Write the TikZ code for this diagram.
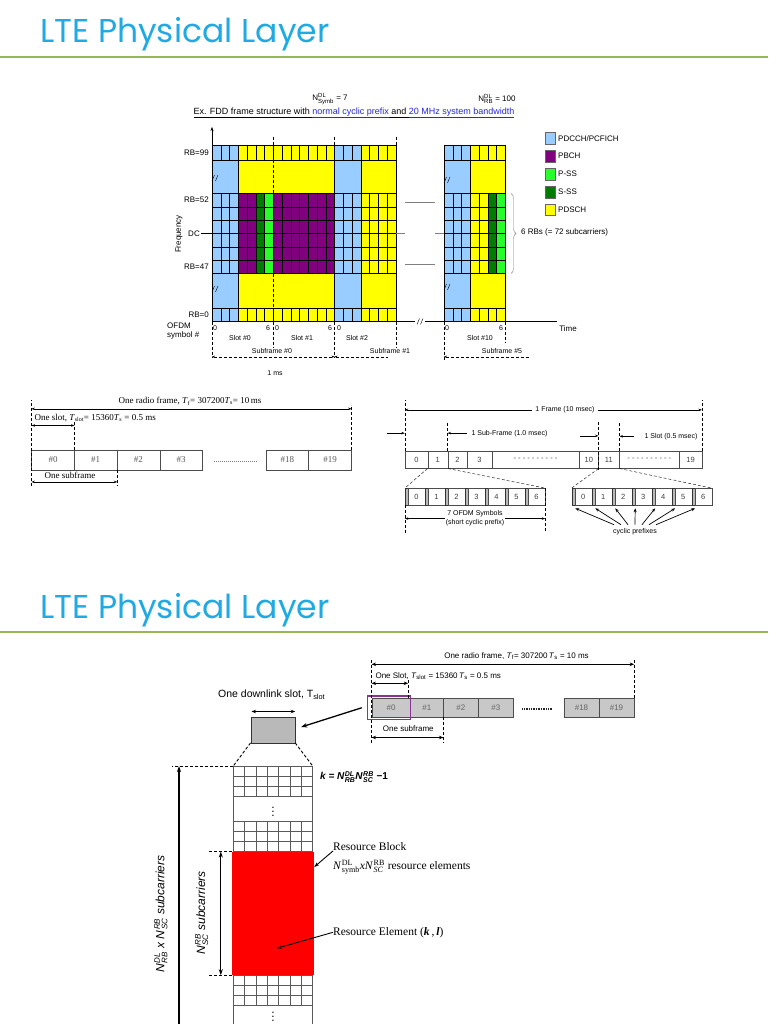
\documentclass[tikz,border=0pt]{standalone}
\usepackage{fontspec}
\usepackage{amsmath}
\usepackage{xcolor}
\setmainfont{Liberation Sans}
\newfontfamily\tnrfont{Liberation Serif}
\newfontfamily\titlefont{Poppins}
\usetikzlibrary{arrows.meta, positioning, calc, decorations.pathreplacing}
\definecolor{titleblue}{RGB}{32,170,228}
\definecolor{rulegreen}{RGB}{150,185,85}
\definecolor{pdcch}{RGB}{153,204,255}
\definecolor{pbch}{RGB}{128,0,128}
\definecolor{pss}{RGB}{40,255,40}
\definecolor{sss}{RGB}{0,125,0}
\definecolor{pdsch}{RGB}{255,255,0}
\definecolor{linkblue}{RGB}{40,40,220}
\definecolor{slotgrey}{RGB}{200,200,200}
\definecolor{selpurple}{RGB}{140,50,150}
\definecolor{gridgrey}{RGB}{90,90,90}
\newcommand\ulpart[1]{\underline{#1\vphantom{py}}}

\begin{document}
\begin{tikzpicture}[x=1pt, y=-1pt,
    pagetitle/.style={font=\titlefont\fontsize{33}{33}\selectfont, text=titleblue, anchor=base west, inner sep=0},
    greenrule/.style={rulegreen, line width=2pt},
    lbl/.style={font=\fontsize{8}{9.7}\selectfont, inner sep=1pt},
    smalllbl/.style={font=\fontsize{7}{8}\selectfont, inner sep=1pt},
    cell/.style={draw=black, line width=0.5pt},
    dimline/.style={densely dashed, line width=0.4pt},
    bdim/.style={densely dashed, line width=0.9pt},
    farr/.style={line width=0.5pt, {Stealth[length=3.5pt,width=2.5pt]}-{Stealth[length=3.5pt,width=2.5pt]}},
    tarr/.style={line width=0.5pt, -{Stealth[length=3.5pt,width=2.5pt]}},
    barr/.style={line width=1pt, {Stealth[length=4.5pt,width=3.5pt]}-{Stealth[length=4.5pt,width=3.5pt]}},
    parr/.style={line width=0.9pt, -{Stealth[length=5pt,width=3.5pt]}},
    legbox/.style={draw=black!60, minimum width=9.5, minimum height=11.5, inner sep=0},
    fbox/.style={draw=black!70, minimum height=20, inner sep=0, text=black!65},
    sbox/.style={draw=black!70, minimum height=17.3, inner sep=0, text=black!75, font=\fontsize{7.5}{8}\selectfont},
    cpbar/.style={draw=black!80, fill=gray!55, minimum width=3, minimum height=16.7, inner sep=0},
    symbox/.style={draw=black!70, minimum width=17, minimum height=16.7, inner sep=0, text=black!75, font=\fontsize{7.5}{8}\selectfont},
    gbox/.style={draw=black!70, fill=slotgrey, minimum height=19, inner sep=0, text=black!60, font=\fontsize{8}{9}\selectfont},
    brkmark/.pic={\draw[line width=0.4pt] (-3,3) -- (-0.5,-3) (0.5,3) -- (3,-3);}
]
\useasboundingbox (0,0) rectangle (768,1024);
\fill[white] (0,0) rectangle (768,1024);

% ---------------- page 1 header
\node[pagetitle] (title1) at (40,43) {LTE Physical Layer};
\draw[greenrule] (0,57) -- (768,57);

\node[lbl] (nsymb) at (330,99) {N$^{\text{DL}}_{\text{Symb}}$ = 7};
\node[lbl] (nrb) at (497,99) {N$^{\text{DL}}_{\text{RB}}$ = 100};
\node[font=\fontsize{9}{10}\selectfont, inner sep=0] (extitle) at (354,113) {\ulpart{Ex. FDD frame structure with\ }\textcolor{linkblue}{\ulpart{normal cyclic prefix}}\ulpart{\ and\ }\textcolor{linkblue}{\ulpart{20 MHz system bandwidth}}};

% ---------------- resource grid, slots 0-2 and slot 10
\fill[pdcch] (212,145) rectangle (238.25,321.5);
\fill[pdsch] (238.25,145) rectangle (334.5,321.5);
\fill[pdcch] (334.5,145) rectangle (360.75,321.5);
\fill[pdsch] (360.75,145) rectangle (395.75,321.5);
\fill[pbch] (238.25,193.5) rectangle (255.75,273.5);
\fill[sss] (255.75,193.5) rectangle (264.5,273.5);
\fill[pss] (264.5,193.5) rectangle (273.25,273.5);
\fill[pbch] (273.25,193.5) rectangle (334.5,273.5);
\fill[pdcch] (444,145) rectangle (470.25,321.5);
\fill[pdsch] (470.25,145) rectangle (505.25,321.5);
\fill[sss] (487.75,193.5) rectangle (496.5,273.5);
\fill[pss] (496.5,193.5) rectangle (505.25,273.5);

\foreach \gx/\nc in {212/21, 444/7} {
  \foreach \gy in {145,160,193.5,206.83,220.17,233.5,246.83,260.17,273.5,308.5,321.5}
    \draw[cell] (\gx,\gy) -- ++({\nc*8.75},0);
  \foreach \col in {0,...,\nc} {
    \draw[cell] ({\gx+\col*8.75},145) -- ++(0,15);
    \draw[cell] ({\gx+\col*8.75},193.5) -- ++(0,80);
    \draw[cell] ({\gx+\col*8.75},308.5) -- ++(0,13);
  }
  \draw[cell] (\gx,145) -- ++(0,176.5);
  \draw[cell] ({\gx+\nc*8.75},145) -- ++(0,176.5);
}
\foreach \gx in {238.25,334.5,360.75,470.25}
  \draw[cell] (\gx,160) -- ++(0,33.5) (\gx,273.5) -- ++(0,35);
\draw[cell, densely dashed] (273.25,160) -- ++(0,33.5) (273.25,273.5) -- ++(0,35);
\foreach \gx in {273.25,334.5,395.75}
  \draw[dimline] (\gx,137) -- (\gx,145);

% breaks
\foreach \bx/\by in {215/178, 215/289, 447/180, 447/287}
  \pic at (\bx,\by) {brkmark};
\draw[gray] (405,202.3) -- (435,202.3) (396,233.5) -- (405,233.5) (435,233.5) -- (444,233.5) (405,264.3) -- (435,264.3);

% axes
\draw[line width=0.5pt, -{Stealth[length=4pt,width=3pt]}] (212,145) -- (212,127);
\draw[line width=0.5pt] (212,321.5) -- (415,321.5) (425,321.5) -- (557,321.5);
\pic at (420,321.5) {brkmark};
\node[lbl] (time) at (568,329) {Time};

\node[lbl, anchor=east] (rb99) at (210,152.5) {RB=99};
\node[lbl, anchor=east] (rb52) at (210,200.2) {RB=52};
\node[lbl, anchor=east] (dc) at (201,233.5) {DC};
\draw[cell] (dc.east) -- (212,233.5);
\node[lbl, anchor=east] (rb47) at (210,266.8) {RB=47};
\node[lbl, anchor=east] (rb0) at (210,315) {RB=0};
\node[lbl, rotate=90] (freq) at (179,234) {Frequency};
\node[lbl, anchor=west, align=left] (ofdm) at (166,331) {OFDM\\symbol \#};

\foreach \sx/\st [count=\i] in {215/0, 268/6, 277/0, 330/6, 339/0, 447/0, 501/6}
  \node[smalllbl] (symno\i) at (\sx,328) {\st};
\foreach \sx/\sy in {212/358, 273.25/347, 334.5/358, 395.75/347, 444/361, 505.25/343}
  \draw[dimline] (\sx,321.5) -- (\sx,\sy);
\draw[dimline, {Stealth[length=3pt]}-{Stealth[length=3pt]}] (212,356.7) -- (334.5,356.7);
\draw[dimline, {Stealth[length=3pt]}-] (334.5,356.7) -- (388,356.7);
\draw[dimline, {Stealth[length=3pt]}-] (444,356.7) -- (530,356.7);

\node[smalllbl] (slot0) at (240,338) {Slot \#0};
\node[smalllbl] (slot1) at (302,338) {Slot \#1};
\node[smalllbl] (slot2) at (357,338) {Slot \#2};
\node[smalllbl] (slot10) at (480,338) {Slot \#10};
\node[smalllbl, fill=white, inner sep=0.5pt] (sf0) at (272,351) {Subframe \#0};
\node[smalllbl, fill=white, inner sep=0.5pt] (sf1) at (390,351) {Subframe \#1};
\node[smalllbl, fill=white, inner sep=0.5pt] (sf5) at (502,351) {Subframe \#5};
\node[smalllbl] (onems) at (275,373) {1 ms};

% legend
\foreach \cl/\ct [count=\i from 0] in {pdcch/PDCCH\slash PCFICH, pbch/PBCH, pss/P-SS, sss/S-SS, pdsch/PDSCH} {
  \node[legbox, fill=\cl] (key\i) at (550,{138.3+\i*17.9}) {};
  \node[lbl, anchor=west] (keytxt\i) at (557,{138.3+\i*17.9}) {\ct};
}
\draw[gray, decorate, decoration={brace, amplitude=5pt}] (511,193.5) -- (511,273.5);
\node[lbl, anchor=west] (sixrb) at (520,232) {6 RBs (= 72 subcarriers)};

% ---------------- radio frame (left)
\begin{scope}[font=\tnrfont\fontsize{9}{10}\selectfont]
\foreach \ft/\fx [count=\i] in {\#0/53, \#1/95.7, \#2/138.4, \#3/181.1, \#18/287.3, \#19/330}
  \node[fbox, minimum width=42.7] (fs\i) at (\fx,460) {\ft};
\draw[gray, line width=0.6pt, dash pattern=on 0.6pt off 1.4pt] (214,461) -- (257,461);
\draw[dimline] ([yshift=-16pt]fs1.south west) -- ([yshift=50pt]fs1.north west);
\draw[farr] ([yshift=41pt]fs1.north west) -- ([yshift=41pt]fs6.north east);
\draw[dimline] (fs6.north east) -- ([yshift=45pt]fs6.north east);
\node (rframe) at (190,401.5) {One radio frame, \textit{T}\textsubscript{f}= 307200\textit{T}\textsubscript{s}= 10\,ms};
\node[anchor=west] (oneslot) at (31,418) {One slot, \textit{T}\textsubscript{slot}= 15360\textit{T}\textsubscript{s} = 0.5 ms};
\draw[farr] ([yshift=24.3pt]fs1.north west) -- ([yshift=24.3pt]fs1.north east);
\draw[dimline] (fs1.north east) -- ([yshift=28pt]fs1.north east);
\draw[farr] ([yshift=-11.7pt]fs1.south west) -- ([yshift=-11.7pt]fs2.south east);
\draw[dimline] (fs2.south east) -- ([yshift=-16pt]fs2.south east);
\node (onesub) at (70,475.5) {One subframe};
\end{scope}

% ---------------- radio frame (right)
\begin{scope}[font=\fontsize{7}{8.5}\selectfont]
\foreach \bt/\bx/\bw [count=\i] in {0/416.35/22.7, 1/437.7/20, 2/457.5/19.6, 3/479.5/24.4, - - - - - - - - - -/535.5/87.6, 10/588.8/19, 11/608.8/21, - - - - - - - - - -/649.3/60, 19/690.5/22.4}
  \node[sbox, minimum width=\bw] (fb\i) at (\bx,459.7) {\bt};
\draw[dimline] (fb1.north west) -- ++(0,-51);
\draw[dimline] (fb9.north east) -- ++(0,-51);
\draw[farr] ([yshift=41pt]fb1.north west) -- ([yshift=41pt]fb9.north east);
\node[fill=white, inner sep=3pt] (oneframe) at (565,410) {1 Frame (10 msec)};
\draw[tarr] ([xshift=-18.3pt,yshift=17.7pt]fb1.north west) -- ([yshift=17.7pt]fb1.north west);
\draw[dimline] (fb3.north west) -- ++(0,-29.3);
\draw[tarr] ([xshift=19pt,yshift=17.7pt]fb3.north west) -- ([yshift=17.7pt]fb3.north west);
\node[anchor=west] (subfr) at (468,433.3) {1 Sub-Frame (1.0 msec)};
\draw[dimline] ([yshift=29.3pt]fb6.north east) -- ([yshift=-2.7pt]fb6.south east);
\draw[tarr] ([xshift=-18.3pt,yshift=15pt]fb6.north east) -- ([yshift=15pt]fb6.north east);
\draw[dimline] (fb7.north east) -- ++(0,-29.3);
\draw[tarr] ([xshift=14pt,yshift=14.5pt]fb7.north east) -- ([yshift=14.5pt]fb7.north east);
\node[anchor=west] (oneslotr) at (641,436.5) {1 Slot (0.5 msec)};

\foreach \gx/\g in {405/a, 571.7/b}
  \foreach \sy in {0,...,6} {
    \node[cpbar] (cp\g\sy) at ({\gx+\sy*20+1.5},496.7) {};
    \node[symbox] (sym\g\sy) at ({\gx+\sy*20+11.5},496.7) {\sy};
  }
\draw[dimline] (fb2.south west) -- (cpa0.north west);
\draw[dimline] (fb2.south east) -- (syma6.north east);
\draw[dimline] (fb6.south east) -- (cpb0.north west);
\draw[dimline] (fb7.south east) -- (symb6.north east);
\draw[farr] ([yshift=-13.3pt]cpa0.south west) -- ([yshift=-13.3pt]syma6.south east);
\node[fill=white, align=center, inner sep=1pt] (ofdmsym) at (475,518) {7 OFDM Symbols\\(short cyclic prefix)};
\draw[dimline] (cpa0.south west) -- ++(0,28);
\draw[dimline] (syma6.north east) -- ++(0,44.7);
\node (cplabel) at (635,531.5) {cyclic prefixes};
\foreach \sy in {0,...,6}
  \draw[line width=0.7pt, -{Stealth[length=4pt,width=3pt]}] ([xshift={(\sy-3)*7pt}]cplabel.north) -- ([xshift=2pt,yshift=-3pt]cpb\sy.south);
\end{scope}

% ---------------- page 2 header
\node[pagetitle] (title2) at (40,618) {LTE Physical Layer};
\draw[greenrule] (0,632) -- (768,632);

% ---------------- radio frame with selected slot
\begin{scope}[font=\fontsize{8}{9}\selectfont]
\foreach \rt/\rx/\rw [count=\i] in {\#0/391.1/38.8, \#1/426.9/32.8, \#2/460.8/35, \#3/495.8/35, \#18/581.5/35, \#19/616.5/35}
  \node[gbox, minimum width=\rw] (rf\i) at (\rx,707.5) {\rt};
\draw[black!85, line width=1.2pt, dash pattern=on 1pt off 0.7pt] (522.3,709) -- (552.7,709);
\node[draw=selpurple, line width=1.4pt, minimum width=43.2, minimum height=23.5, inner sep=0] (sel) at (389.1,707.75) {};
\draw[bdim] ([yshift=38pt]rf1.north west) -- ([yshift=-26pt]rf1.south west);
\draw[bdim] (rf6.north east) -- ++(0,-38);
\draw[barr] ([yshift=33.5pt]rf1.north west) -- ([yshift=33.5pt]rf6.north east);
\node (rfbot) at (516.5,656) {One radio frame, \textit{T}\textsubscript{f}= 307200\,\textit{T}\textsubscript{s} = 10 ms};
\node[anchor=west] (oneslotb) at (372,676) {One Slot, \textit{T}\textsubscript{slot} = 15360\,\textit{T}\textsubscript{s} = 0.5 ms};
\draw[barr] ([yshift=14.5pt]rf1.north west) -- ([xshift=-2.5pt,yshift=14.5pt]rf1.north east);
\draw[bdim] ([xshift=-2.5pt]rf1.north east) -- ++(0,-18);
\draw[barr] ([yshift=-20.3pt]rf1.south west) -- ([yshift=-20.3pt]rf2.south east);
\draw[bdim] (rf2.south east) -- ++(0,26);
\node (onesubb) at (408.3,728.3) {One subframe};
\end{scope}

% ---------------- downlink slot and resource grid
\node[font=\fontsize{10.5}{12}\selectfont] (dltxt) at (271.7,695) {One downlink slot, T\textsubscript{slot}};
\node[draw=black!80, fill=gray!55, minimum width=44.3, minimum height=25.4, inner sep=0] (dlslot) at (272.85,730) {};
\draw[barr] ([xshift=1pt,yshift=5.6pt]dlslot.north west) -- ([yshift=5.6pt]dlslot.north east);
\draw[line width=1.3pt, -{Stealth[length=6pt,width=4.5pt]}] ([xshift=-5pt]sel.west) -- ([xshift=6pt,yshift=3pt]dlslot.east);

\coordinate (gtl) at (233.3,766);
\coordinate (gtr) at (312.7,766);
\draw[bdim] (dlslot.south west) -- (gtl);
\draw[bdim] (dlslot.south east) -- (gtr);
\foreach \gy/\gh in {766/30.7, 821.7/30, 975/30} {
  \foreach \col in {1,...,6}
    \draw[gridgrey, line width=0.5pt] ({233.3+\col*11.343},\gy) -- ++(0,\gh);
  \foreach \row in {0,...,3}
    \draw[gridgrey, line width=0.5pt] (233.3,{\gy+\row*\gh/3}) -- ++(79.4,0);
}
\draw[gridgrey, line width=0.5pt] (gtl) -- (233.3,1024) (gtr) -- (312.7,1024);
\node[font=\fontsize{12}{12}\selectfont, inner sep=0] (vdots1) at (273,809) {$\vdots$};
\node[font=\fontsize{12}{12}\selectfont, inner sep=0] (vdots2) at (273,1014) {$\vdots$};
\node[fill=red, minimum width=82.3, minimum height=123.3, inner sep=0] (rblock) at (272.85,913.35) {};

\coordinate (axisend) at (179,766);
\draw[bdim] (gtl) -- ++(-61.6,0);
\draw[line width=1.2pt, -{Stealth[length=6pt,width=4pt]}] (179,1024) -- (axisend);
\draw[bdim] (rblock.north west) -- ++(-23.4,0);
\draw[bdim] (rblock.south west) -- ++(-23.4,0);
\draw[line width=1.2pt, {Stealth[length=6pt,width=4pt]}-{Stealth[length=6pt,width=4pt]}] ([xshift=-10.7pt]rblock.north west) -- ([xshift=-10.7pt]rblock.south west);
\node[rotate=90, font=\itshape\fontsize{12}{14}\selectfont] (nsub) at (161,914) {N\kern0.5pt$^{\text{DL}}_{\text{RB}}$ x N\kern0.5pt$^{\text{RB}}_{\text{SC}}$ subcarriers};
\node[rotate=90, font=\itshape\fontsize{12}{14}\selectfont] (nrbsub) at (201.7,913) {N\kern0.5pt$^{\text{RB}}_{\text{SC}}$ subcarriers};

\begin{scope}[font=\tnrfont\fontsize{11.5}{13}\selectfont]
\node[anchor=west, inner sep=0, font=\bfseries\itshape] (keq) at (320,777) {k = N\kern0.5pt$^{\text{DL}}_{\text{RB}}$N\kern0.5pt$^{\text{RB}}_{\text{SC}}$ {\upshape −1}};
\node[anchor=west, inner sep=0] (rbl) at (333,846.7) {Resource Block};
\node[anchor=west, inner sep=0] (rbn) at (333,867) {\textit{N}\kern0.5pt$^{\text{DL}}_{\text{symb}}$\textit{xN}\kern0.5pt$^{\text{RB}}_{\textit{SC}}$ resource elements};
\draw[parr] (rbl.south west) -- (rblock.east |- rbn.west);
\node[anchor=west, inner sep=0] (rel) at (333,932.3) {Resource Element (\textbf{\textit{k}}\,,\,\textbf{\textit{l}})};
\coordinate (rept) at (276.7,948.3);
\draw[parr] (rel.west) -- (rept);
\end{scope}
\end{tikzpicture}
\end{document}
